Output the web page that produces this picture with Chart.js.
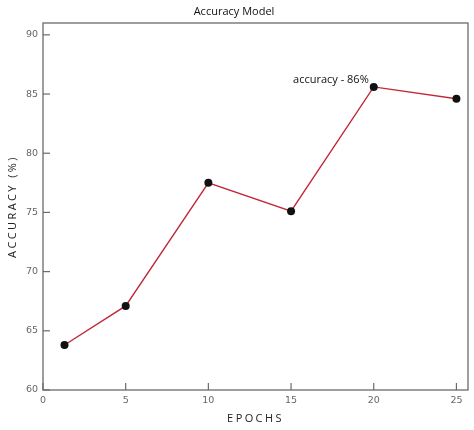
<!DOCTYPE html>
<html>
<head>
<meta charset="utf-8">
<script src="https://cdn.jsdelivr.net/npm/chart.js@4.4.1/dist/chart.umd.min.js"></script>
<style>
  html, body { margin: 0; padding: 0; background: #ffffff; }
  canvas { display: block; }
</style>
</head>
<body>
<canvas id="c" width="474" height="430"></canvas>
<script>
// ---- data ----
const epochs = [1.3, 5, 10, 15, 20, 25];
const accuracy = [63.8, 67.1, 77.5, 75.1, 85.6, 84.6];
const xTickValues = [0, 5, 10, 15, 20, 25];
const yTickValues = [60, 65, 70, 75, 80, 85, 90];
const chartTitle = 'Accuracy Model';
const xTitle = 'EPOCHS';
const yTitle = 'ACCURACY (%)';
const annotationPrefix = 'accuracy - ';

const AXIS_COLOR = '#6a6a6a';
const LABEL_COLOR = '#666666';

const points = epochs.map((e, i) => ({ x: e, y: accuracy[i] }));

// frame + inward tick marks
const framePlugin = {
  id: 'frame',
  beforeDatasetsDraw(chart) {
    const { ctx, chartArea: a } = chart;
    ctx.save();
    ctx.strokeStyle = AXIS_COLOR;
    ctx.lineWidth = 1.3;
    ctx.strokeRect(a.left, a.top, a.right - a.left, a.bottom - a.top);
    ctx.lineWidth = 1.2;
    const sx = chart.scales.x;
    sx.ticks.forEach((t, i) => {
      const px = sx.getPixelForTick(i);
      ctx.beginPath();
      ctx.moveTo(px, a.bottom);
      ctx.lineTo(px, a.bottom - 7);
      ctx.stroke();
    });
    const sy = chart.scales.y;
    sy.ticks.forEach((t, i) => {
      const py = sy.getPixelForTick(i);
      ctx.beginPath();
      ctx.moveTo(a.left, py);
      ctx.lineTo(a.left + 7, py);
      ctx.stroke();
    });
    ctx.restore();
  }
};

// letter-spaced axis titles
const spacedTitles = {
  id: 'spacedTitles',
  beforeDraw(chart) {
    ['x', 'y'].forEach(id => {
      const s = chart.scales[id];
      if (s && !s._spacedPatched) {
        const orig = s.drawTitle;
        s.drawTitle = function () {
          const c = this.ctx;
          c.save();
          c.letterSpacing = '2.4px';
          orig.call(this);
          c.restore();
        };
        s._spacedPatched = true;
      }
    });
  }
};

// label next to the maximum point
const annotate = {
  id: 'annotate',
  afterDatasetsDraw(chart) {
    const data = chart.data.datasets[0].data;
    let best = 0;
    data.forEach((p, i) => { if (p.y > data[best].y) best = i; });
    const el = chart.getDatasetMeta(0).data[best];
    const { ctx } = chart;
    ctx.save();
    ctx.font = '11px "Open Sans", sans-serif';
    ctx.fillStyle = '#111111';
    ctx.textAlign = 'right';
    ctx.textBaseline = 'middle';
    ctx.fillText(annotationPrefix + Math.round(data[best].y) + '%', el.x - 5, el.y - 7);
    ctx.restore();
  }
};

new Chart(document.getElementById('c'), {
  type: 'line',
  data: {
    datasets: [{
      data: points,
      borderColor: '#c0283a',
      borderWidth: 1.4,
      pointRadius: 4,
      pointHoverRadius: 4,
      pointBackgroundColor: '#111111',
      pointBorderColor: '#111111',
      pointBorderWidth: 0,
      tension: 0,
      fill: false
    }]
  },
  options: {
    responsive: false,
    animation: false,
    events: [],
    layout: { padding: { left: 0, right: 6, top: 0, bottom: 0 } },
    plugins: {
      legend: { display: false },
      tooltip: { enabled: false },
      title: {
        display: true,
        text: chartTitle,
        color: '#111111',
        font: { family: '"Open Sans", sans-serif', size: 11, weight: 'normal', lineHeight: 1.2 },
        padding: { top: 5, bottom: 4.8 }
      }
    },
    scales: {
      x: {
        type: 'linear',
        min: 0,
        max: 25.7,
        afterBuildTicks(scale) { scale.ticks = xTickValues.map(v => ({ value: v })); },
        afterFit(scale) { scale.height = 40; },
        grid: { display: false, drawTicks: false },
        border: { display: false },
        ticks: {
          padding: 5,
          maxRotation: 0,
          color: LABEL_COLOR,
          font: { family: '"DejaVu Sans", sans-serif', size: 9.5 }
        },
        title: {
          display: true,
          text: xTitle,
          color: '#222222',
          font: { family: '"Open Sans", sans-serif', size: 11, lineHeight: 1.2 },
          padding: { top: 0, bottom: 5 }
        }
      },
      y: {
        type: 'linear',
        min: 60,
        max: 91,
        afterBuildTicks(scale) { scale.ticks = yTickValues.map(v => ({ value: v })); },
        afterFit(scale) { scale.width = 43; },
        grid: { display: false, drawTicks: false },
        border: { display: false },
        ticks: {
          padding: 5,
          color: LABEL_COLOR,
          font: { family: '"DejaVu Sans", sans-serif', size: 9.5 }
        },
        title: {
          display: true,
          text: yTitle,
          color: '#222222',
          font: { family: '"Open Sans", sans-serif', size: 11, lineHeight: 1.2 },
          padding: { top: 6, bottom: 0 }
        }
      }
    }
  },
  plugins: [framePlugin, spacedTitles, annotate]
});
</script>
</body>
</html>
